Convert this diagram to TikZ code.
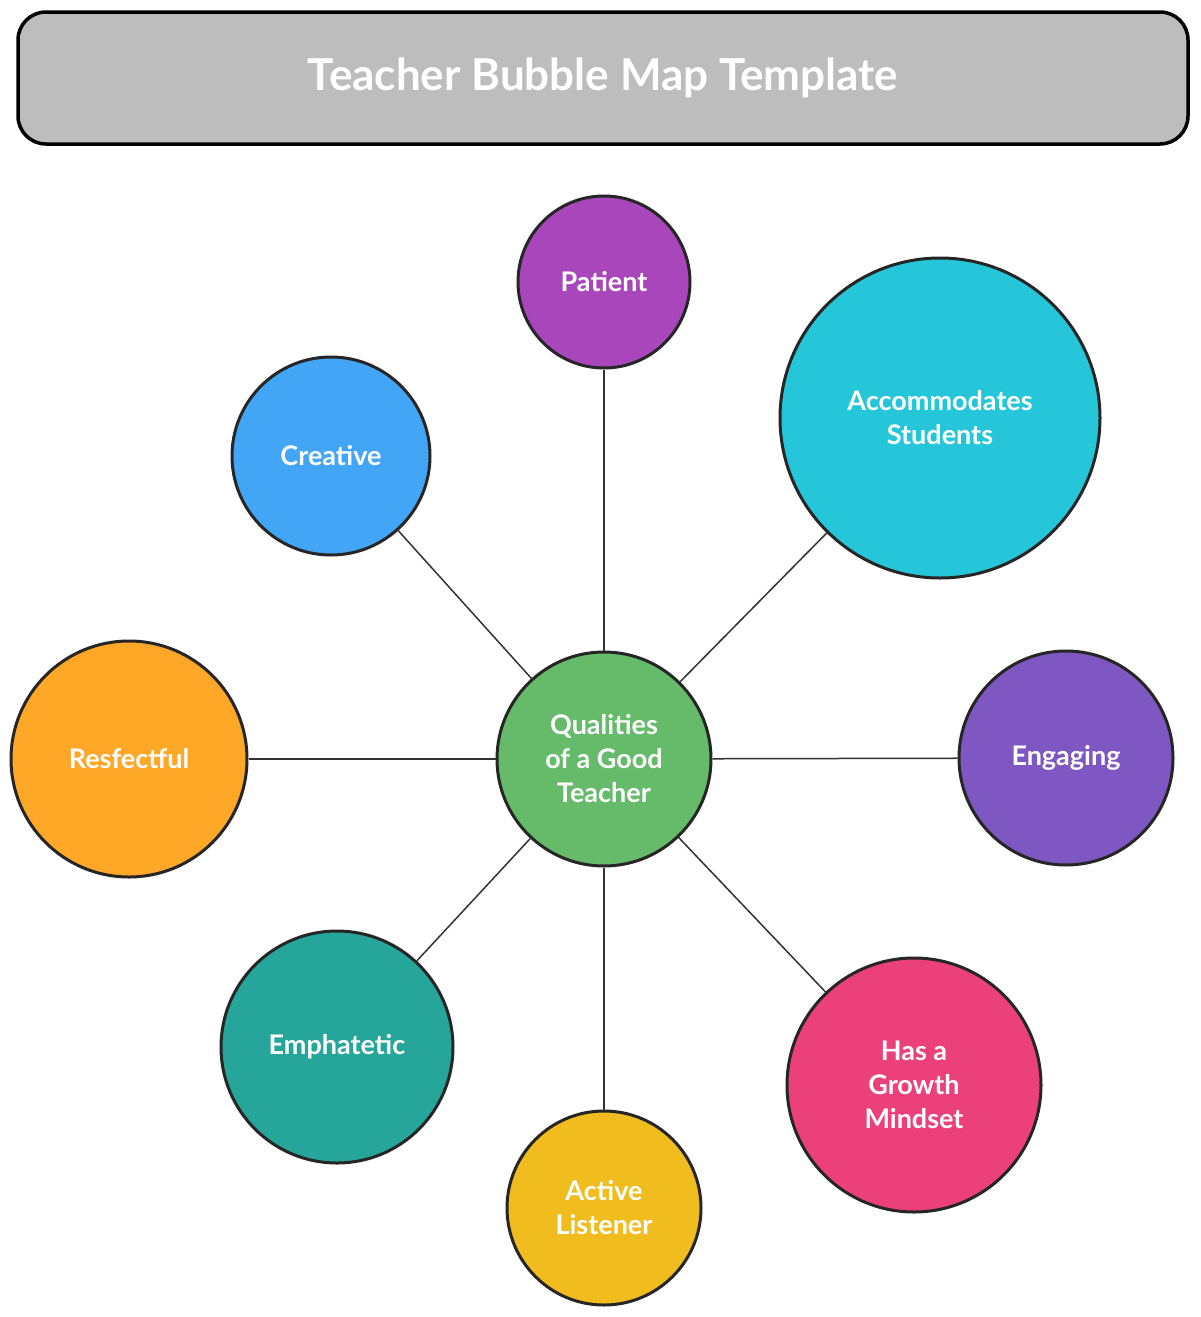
\documentclass[tikz,border=0pt]{standalone}
\usepackage{fontspec}
\setmainfont{Lato}
\definecolor{cPat}{HTML}{A946BC}
\definecolor{cAcc}{HTML}{26C6DA}
\definecolor{cCre}{HTML}{42A5F5}
\definecolor{cCen}{HTML}{66BB6A}
\definecolor{cRes}{HTML}{FFA726}
\definecolor{cEng}{HTML}{7E57C2}
\definecolor{cEmp}{HTML}{26A69A}
\definecolor{cGro}{HTML}{EC407A}
\definecolor{cAct}{HTML}{F0BC1E}
\definecolor{cTit}{HTML}{BDBDBD}
\begin{document}
\begin{tikzpicture}[x=1pt,y=-1pt,
  bub/.style={circle,draw=black!85,line width=3pt,inner sep=0pt,text=white,
    font=\fontsize{27}{34}\selectfont\bfseries,align=center},
  link/.style={draw=black!80,line width=1.5pt}]
\useasboundingbox (0,0) rectangle (1200,1317);
\node[draw=black,line width=3.5pt,fill=cTit,rounded corners=28pt,minimum width=1170pt,minimum height=132pt,
  text=white,font=\fontsize{44}{50}\selectfont\bfseries] (title) at (603,78) {Teacher Bubble Map Template};
\node[bub,fill=cCen,minimum size=214pt] (c) at (604,759) {Qualities\\of a Good\\Teacher};
\node[bub,fill=cPat,minimum size=172pt] (pat) at (604,282) {Patient};
\node[bub,fill=cAcc,minimum size=320pt] (acc) at (940,418) {Accommodates\\Students};
\node[bub,fill=cCre,minimum size=198pt] (cre) at (331,456) {Creative};
\node[bub,fill=cRes,minimum size=236pt] (res) at (129,759) {Resfectful};
\node[bub,fill=cEng,minimum size=214pt] (eng) at (1066,758) {Engaging};
\node[bub,fill=cEmp,minimum size=232pt] (emp) at (337,1047) {Emphatetic};
\node[bub,fill=cGro,minimum size=254pt] (gro) at (914,1085) {Has a\\Growth\\Mindset};
\node[bub,fill=cAct,minimum size=194pt] (act) at (604,1208) {Active\\Listener};
\foreach \n in {pat,acc,cre,res,eng,emp,gro,act}
  \draw[link] (c) -- (\n);
\end{tikzpicture}
\end{document}
